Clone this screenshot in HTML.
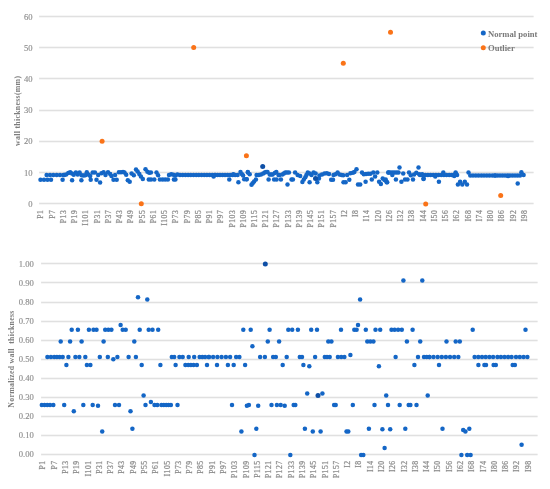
<!DOCTYPE html>
<html><head><meta charset="utf-8"><style>
html,body{margin:0;padding:0;background:#fff;width:550px;height:489px;overflow:hidden}
svg{display:block}
.yl{font-family:"Liberation Serif", "Times New Roman", serif;font-size:8.6px;fill:#8e8e8e;stroke:#8e8e8e;stroke-width:0.15px}
.xl{font-family:"Liberation Serif", "Times New Roman", serif;font-size:7.7px;letter-spacing:0.45px;fill:#8a8a8a;stroke:#8a8a8a;stroke-width:0.22px}
.tt{font-family:"Liberation Serif", "Times New Roman", serif;font-size:7.8px;letter-spacing:0.3px;font-weight:bold;fill:#7d7d7d}
.lg{font-family:"Liberation Serif", "Times New Roman", serif;font-size:8.6px;font-weight:bold;fill:#7a7a7a}
</style></head><body>
<svg width="550" height="489" viewBox="0 0 550 489">
<rect width="550" height="489" fill="#fff"/>
<g>
<line x1="39.1" y1="203.5" x2="533.6" y2="203.5" stroke="#f6f6f6" stroke-width="3"/>
<line x1="39.1" y1="203.5" x2="533.6" y2="203.5" stroke="#e0e0e0" stroke-width="1"/>
<line x1="39.1" y1="172.5" x2="533.6" y2="172.5" stroke="#f6f6f6" stroke-width="3"/>
<line x1="39.1" y1="172.5" x2="533.6" y2="172.5" stroke="#e0e0e0" stroke-width="1"/>
<line x1="39.1" y1="141.5" x2="533.6" y2="141.5" stroke="#f6f6f6" stroke-width="3"/>
<line x1="39.1" y1="141.5" x2="533.6" y2="141.5" stroke="#e0e0e0" stroke-width="1"/>
<line x1="39.1" y1="110.5" x2="533.6" y2="110.5" stroke="#f6f6f6" stroke-width="3"/>
<line x1="39.1" y1="110.5" x2="533.6" y2="110.5" stroke="#e0e0e0" stroke-width="1"/>
<line x1="39.1" y1="78.5" x2="533.6" y2="78.5" stroke="#f6f6f6" stroke-width="3"/>
<line x1="39.1" y1="78.5" x2="533.6" y2="78.5" stroke="#e0e0e0" stroke-width="1"/>
<line x1="39.1" y1="47.5" x2="533.6" y2="47.5" stroke="#f6f6f6" stroke-width="3"/>
<line x1="39.1" y1="47.5" x2="533.6" y2="47.5" stroke="#e0e0e0" stroke-width="1"/>
<line x1="39.1" y1="16.5" x2="533.6" y2="16.5" stroke="#f6f6f6" stroke-width="3"/>
<line x1="39.1" y1="16.5" x2="533.6" y2="16.5" stroke="#e0e0e0" stroke-width="1"/>
<text x="32.6" y="206.8" text-anchor="end" class="yl">0</text>
<text x="32.6" y="175.6" text-anchor="end" class="yl">10</text>
<text x="32.6" y="144.4" text-anchor="end" class="yl">20</text>
<text x="32.6" y="113.2" text-anchor="end" class="yl">30</text>
<text x="32.6" y="82.0" text-anchor="end" class="yl">40</text>
<text x="32.6" y="50.8" text-anchor="end" class="yl">50</text>
<text x="32.6" y="19.5" text-anchor="end" class="yl">60</text>
<text transform="translate(43.4,209.8) rotate(-90)" text-anchor="end" class="xl">P1</text>
<text transform="translate(54.7,209.8) rotate(-90)" text-anchor="end" class="xl">P7</text>
<text transform="translate(65.9,209.8) rotate(-90)" text-anchor="end" class="xl">P13</text>
<text transform="translate(77.2,209.8) rotate(-90)" text-anchor="end" class="xl">P19</text>
<text transform="translate(88.4,209.8) rotate(-90)" text-anchor="end" class="xl">I101</text>
<text transform="translate(99.6,209.8) rotate(-90)" text-anchor="end" class="xl">P31</text>
<text transform="translate(110.9,209.8) rotate(-90)" text-anchor="end" class="xl">P37</text>
<text transform="translate(122.1,209.8) rotate(-90)" text-anchor="end" class="xl">P43</text>
<text transform="translate(133.3,209.8) rotate(-90)" text-anchor="end" class="xl">P49</text>
<text transform="translate(144.6,209.8) rotate(-90)" text-anchor="end" class="xl">P55</text>
<text transform="translate(155.8,209.8) rotate(-90)" text-anchor="end" class="xl">P61</text>
<text transform="translate(167.1,209.8) rotate(-90)" text-anchor="end" class="xl">I105</text>
<text transform="translate(178.3,209.8) rotate(-90)" text-anchor="end" class="xl">P73</text>
<text transform="translate(189.5,209.8) rotate(-90)" text-anchor="end" class="xl">P79</text>
<text transform="translate(200.8,209.8) rotate(-90)" text-anchor="end" class="xl">P85</text>
<text transform="translate(212.0,209.8) rotate(-90)" text-anchor="end" class="xl">P91</text>
<text transform="translate(223.3,209.8) rotate(-90)" text-anchor="end" class="xl">P97</text>
<text transform="translate(234.5,209.8) rotate(-90)" text-anchor="end" class="xl">P103</text>
<text transform="translate(245.7,209.8) rotate(-90)" text-anchor="end" class="xl">P109</text>
<text transform="translate(257.0,209.8) rotate(-90)" text-anchor="end" class="xl">P115</text>
<text transform="translate(268.2,209.8) rotate(-90)" text-anchor="end" class="xl">P121</text>
<text transform="translate(279.4,209.8) rotate(-90)" text-anchor="end" class="xl">P127</text>
<text transform="translate(290.7,209.8) rotate(-90)" text-anchor="end" class="xl">P133</text>
<text transform="translate(301.9,209.8) rotate(-90)" text-anchor="end" class="xl">P139</text>
<text transform="translate(313.2,209.8) rotate(-90)" text-anchor="end" class="xl">P145</text>
<text transform="translate(324.4,209.8) rotate(-90)" text-anchor="end" class="xl">P151</text>
<text transform="translate(335.6,209.8) rotate(-90)" text-anchor="end" class="xl">P157</text>
<text transform="translate(346.9,209.8) rotate(-90)" text-anchor="end" class="xl">I2</text>
<text transform="translate(358.1,209.8) rotate(-90)" text-anchor="end" class="xl">I8</text>
<text transform="translate(369.4,209.8) rotate(-90)" text-anchor="end" class="xl">I14</text>
<text transform="translate(380.6,209.8) rotate(-90)" text-anchor="end" class="xl">I20</text>
<text transform="translate(391.8,209.8) rotate(-90)" text-anchor="end" class="xl">I26</text>
<text transform="translate(403.1,209.8) rotate(-90)" text-anchor="end" class="xl">I32</text>
<text transform="translate(414.3,209.8) rotate(-90)" text-anchor="end" class="xl">I38</text>
<text transform="translate(425.6,209.8) rotate(-90)" text-anchor="end" class="xl">I44</text>
<text transform="translate(436.8,209.8) rotate(-90)" text-anchor="end" class="xl">I50</text>
<text transform="translate(448.0,209.8) rotate(-90)" text-anchor="end" class="xl">I56</text>
<text transform="translate(459.3,209.8) rotate(-90)" text-anchor="end" class="xl">I62</text>
<text transform="translate(470.5,209.8) rotate(-90)" text-anchor="end" class="xl">I68</text>
<text transform="translate(481.7,209.8) rotate(-90)" text-anchor="end" class="xl">I74</text>
<text transform="translate(493.0,209.8) rotate(-90)" text-anchor="end" class="xl">I80</text>
<text transform="translate(504.2,209.8) rotate(-90)" text-anchor="end" class="xl">I86</text>
<text transform="translate(515.5,209.8) rotate(-90)" text-anchor="end" class="xl">I92</text>
<text transform="translate(526.7,209.8) rotate(-90)" text-anchor="end" class="xl">I98</text>
<text transform="translate(20.0,110.8) rotate(-90)" text-anchor="middle" class="tt">wall thickness(mm)</text>
<circle cx="40.5" cy="179.8" r="2.25" fill="#1466c6"/>
<circle cx="44.0" cy="179.8" r="2.25" fill="#1466c6"/>
<circle cx="47.5" cy="179.8" r="2.25" fill="#1466c6"/>
<circle cx="51.0" cy="179.8" r="2.25" fill="#1466c6"/>
<circle cx="46.6" cy="174.9" r="2.25" fill="#1466c6"/>
<circle cx="50.0" cy="174.9" r="2.25" fill="#1466c6"/>
<circle cx="53.3" cy="174.9" r="2.25" fill="#1466c6"/>
<circle cx="56.7" cy="174.9" r="2.25" fill="#1466c6"/>
<circle cx="60.0" cy="174.9" r="2.25" fill="#1466c6"/>
<circle cx="63.4" cy="174.9" r="2.25" fill="#1466c6"/>
<circle cx="62.6" cy="179.8" r="2.25" fill="#1466c6"/>
<circle cx="72.1" cy="180.2" r="2.25" fill="#1466c6"/>
<circle cx="64.3" cy="175" r="2.25" fill="#1466c6"/>
<circle cx="66.1" cy="174.5" r="2.25" fill="#1466c6"/>
<circle cx="68.3" cy="172.9" r="2.25" fill="#1466c6"/>
<circle cx="70.2" cy="172.2" r="2.25" fill="#1466c6"/>
<circle cx="72" cy="173.5" r="2.25" fill="#1466c6"/>
<circle cx="73.7" cy="174.8" r="2.25" fill="#1466c6"/>
<circle cx="75.9" cy="172.5" r="2.25" fill="#1466c6"/>
<circle cx="77.7" cy="174.6" r="2.25" fill="#1466c6"/>
<circle cx="79.6" cy="172.6" r="2.25" fill="#1466c6"/>
<circle cx="81.6" cy="175.2" r="2.25" fill="#1466c6"/>
<circle cx="83.5" cy="175.5" r="2.25" fill="#1466c6"/>
<circle cx="85.2" cy="175.3" r="2.25" fill="#1466c6"/>
<circle cx="86.8" cy="172.2" r="2.25" fill="#1466c6"/>
<circle cx="88.7" cy="174.8" r="2.25" fill="#1466c6"/>
<circle cx="90.2" cy="175.9" r="2.25" fill="#1466c6"/>
<circle cx="92.7" cy="172.5" r="2.25" fill="#1466c6"/>
<circle cx="94.9" cy="172.5" r="2.25" fill="#1466c6"/>
<circle cx="81.4" cy="180.2" r="2.25" fill="#1466c6"/>
<circle cx="90.7" cy="179.7" r="2.25" fill="#1466c6"/>
<circle cx="96.5" cy="179.7" r="2.25" fill="#1466c6"/>
<circle cx="100.1" cy="182.5" r="2.25" fill="#1466c6"/>
<circle cx="98.2" cy="175.1" r="2.25" fill="#1466c6"/>
<circle cx="101.5" cy="173.2" r="2.25" fill="#1466c6"/>
<circle cx="103.6" cy="172.2" r="2.25" fill="#1466c6"/>
<circle cx="105.5" cy="175.1" r="2.25" fill="#1466c6"/>
<circle cx="108" cy="172.2" r="2.25" fill="#1466c6"/>
<circle cx="110.2" cy="174" r="2.25" fill="#1466c6"/>
<circle cx="111.5" cy="175.9" r="2.25" fill="#1466c6"/>
<circle cx="115.1" cy="175.1" r="2.25" fill="#1466c6"/>
<circle cx="118.9" cy="172.2" r="2.25" fill="#1466c6"/>
<circle cx="113.5" cy="179.7" r="2.25" fill="#1466c6"/>
<circle cx="116.7" cy="179.7" r="2.25" fill="#1466c6"/>
<circle cx="121" cy="172.2" r="2.25" fill="#1466c6"/>
<circle cx="123" cy="172.1" r="2.25" fill="#1466c6"/>
<circle cx="124.5" cy="172.5" r="2.25" fill="#1466c6"/>
<circle cx="126.2" cy="174.7" r="2.25" fill="#1466c6"/>
<circle cx="131.6" cy="173.6" r="2.25" fill="#1466c6"/>
<circle cx="133.8" cy="175.3" r="2.25" fill="#1466c6"/>
<circle cx="136" cy="169.4" r="2.25" fill="#1466c6"/>
<circle cx="137.6" cy="171.6" r="2.25" fill="#1466c6"/>
<circle cx="139.3" cy="173.9" r="2.25" fill="#1466c6"/>
<circle cx="140.9" cy="176.6" r="2.25" fill="#1466c6"/>
<circle cx="142.8" cy="179.1" r="2.25" fill="#1466c6"/>
<circle cx="127.8" cy="180.2" r="2.25" fill="#1466c6"/>
<circle cx="129.7" cy="181.8" r="2.25" fill="#1466c6"/>
<circle cx="145.5" cy="169.3" r="2.25" fill="#1466c6"/>
<circle cx="147.4" cy="171.7" r="2.25" fill="#1466c6"/>
<circle cx="149.2" cy="172.8" r="2.25" fill="#1466c6"/>
<circle cx="150.9" cy="172.5" r="2.25" fill="#1466c6"/>
<circle cx="148.8" cy="179.6" r="2.25" fill="#1466c6"/>
<circle cx="151" cy="179.6" r="2.25" fill="#1466c6"/>
<circle cx="154.3" cy="179.6" r="2.25" fill="#1466c6"/>
<circle cx="156.5" cy="172.4" r="2.25" fill="#1466c6"/>
<circle cx="158.1" cy="175.3" r="2.25" fill="#1466c6"/>
<circle cx="159.9" cy="179.6" r="2.25" fill="#1466c6"/>
<circle cx="162.6" cy="179.6" r="2.25" fill="#1466c6"/>
<circle cx="165.2" cy="179.6" r="2.25" fill="#1466c6"/>
<circle cx="167.9" cy="179.6" r="2.25" fill="#1466c6"/>
<circle cx="169" cy="175" r="2.25" fill="#1466c6"/>
<circle cx="171.2" cy="174.2" r="2.25" fill="#1466c6"/>
<circle cx="173.4" cy="174.7" r="2.25" fill="#1466c6"/>
<circle cx="173.9" cy="179.4" r="2.25" fill="#1466c6"/>
<circle cx="175.4" cy="175.5" r="2.25" fill="#1466c6"/>
<circle cx="177.4" cy="174.4" r="2.25" fill="#1466c6"/>
<circle cx="180.0" cy="175.0" r="2.25" fill="#1466c6"/>
<circle cx="182.7" cy="175.0" r="2.25" fill="#1466c6"/>
<circle cx="185.4" cy="175.0" r="2.25" fill="#1466c6"/>
<circle cx="188.1" cy="175.0" r="2.25" fill="#1466c6"/>
<circle cx="190.8" cy="175.0" r="2.25" fill="#1466c6"/>
<circle cx="193.5" cy="175.0" r="2.25" fill="#1466c6"/>
<circle cx="196.2" cy="175.0" r="2.25" fill="#1466c6"/>
<circle cx="198.8" cy="175.0" r="2.25" fill="#1466c6"/>
<circle cx="201.5" cy="175.0" r="2.25" fill="#1466c6"/>
<circle cx="204.2" cy="175.0" r="2.25" fill="#1466c6"/>
<circle cx="206.9" cy="175.0" r="2.25" fill="#1466c6"/>
<circle cx="209.6" cy="175.0" r="2.25" fill="#1466c6"/>
<circle cx="212.3" cy="175.0" r="2.25" fill="#1466c6"/>
<circle cx="215.0" cy="175.0" r="2.25" fill="#1466c6"/>
<circle cx="175.4" cy="179.6" r="2.25" fill="#1466c6"/>
<circle cx="215.0" cy="175.0" r="2.25" fill="#1466c6"/>
<circle cx="217.5" cy="175.0" r="2.25" fill="#1466c6"/>
<circle cx="220.0" cy="175.0" r="2.25" fill="#1466c6"/>
<circle cx="222.5" cy="175.0" r="2.25" fill="#1466c6"/>
<circle cx="225.0" cy="175.0" r="2.25" fill="#1466c6"/>
<circle cx="227.6" cy="175.0" r="2.25" fill="#1466c6"/>
<circle cx="230.1" cy="175.0" r="2.25" fill="#1466c6"/>
<circle cx="232.6" cy="175.0" r="2.25" fill="#1466c6"/>
<circle cx="235.1" cy="175.0" r="2.25" fill="#1466c6"/>
<circle cx="237.6" cy="175.0" r="2.25" fill="#1466c6"/>
<circle cx="213.6" cy="176.4" r="2.25" fill="#1466c6"/>
<circle cx="229.3" cy="179.6" r="2.25" fill="#1466c6"/>
<circle cx="233.3" cy="174.2" r="2.25" fill="#1466c6"/>
<circle cx="240.5" cy="172.0" r="2.25" fill="#1466c6"/>
<circle cx="242" cy="174.2" r="2.25" fill="#1466c6"/>
<circle cx="243.1" cy="175.6" r="2.25" fill="#1466c6"/>
<circle cx="238.4" cy="182.2" r="2.25" fill="#1466c6"/>
<circle cx="244.2" cy="179.3" r="2.25" fill="#1466c6"/>
<circle cx="246.7" cy="179.3" r="2.25" fill="#1466c6"/>
<circle cx="247.8" cy="172.0" r="2.25" fill="#1466c6"/>
<circle cx="247.9" cy="172.4" r="2.25" fill="#1466c6"/>
<circle cx="249.7" cy="174.2" r="2.25" fill="#1466c6"/>
<circle cx="246.5" cy="179.3" r="2.25" fill="#1466c6"/>
<circle cx="255.9" cy="179.6" r="2.25" fill="#1466c6"/>
<circle cx="254.1" cy="181.5" r="2.25" fill="#1466c6"/>
<circle cx="252.6" cy="183.3" r="2.25" fill="#1466c6"/>
<circle cx="251.5" cy="184.7" r="2.25" fill="#1466c6"/>
<circle cx="256.6" cy="174.9" r="2.25" fill="#1466c6"/>
<circle cx="258.8" cy="174.9" r="2.25" fill="#1466c6"/>
<circle cx="261" cy="174.5" r="2.25" fill="#1466c6"/>
<circle cx="263.2" cy="173.5" r="2.25" fill="#1466c6"/>
<circle cx="264.7" cy="172.5" r="2.25" fill="#1466c6"/>
<circle cx="266.1" cy="172.0" r="2.25" fill="#1466c6"/>
<circle cx="267.5" cy="172.0" r="2.25" fill="#1466c6"/>
<circle cx="268.6" cy="179.6" r="2.25" fill="#1466c6"/>
<circle cx="269.7" cy="174.5" r="2.25" fill="#1466c6"/>
<circle cx="271.2" cy="174.5" r="2.25" fill="#1466c6"/>
<circle cx="272.6" cy="174.5" r="2.25" fill="#1466c6"/>
<circle cx="274.8" cy="173.1" r="2.25" fill="#1466c6"/>
<circle cx="276.3" cy="172.0" r="2.25" fill="#1466c6"/>
<circle cx="278.5" cy="174.9" r="2.25" fill="#1466c6"/>
<circle cx="274.1" cy="179.6" r="2.25" fill="#1466c6"/>
<circle cx="276.6" cy="179.6" r="2.25" fill="#1466c6"/>
<circle cx="358" cy="184.4" r="2.25" fill="#1466c6"/>
<circle cx="360.2" cy="184.4" r="2.25" fill="#1466c6"/>
<circle cx="362" cy="172.4" r="2.25" fill="#1466c6"/>
<circle cx="363.8" cy="174.2" r="2.25" fill="#1466c6"/>
<circle cx="365.6" cy="181.8" r="2.25" fill="#1466c6"/>
<circle cx="366" cy="174" r="2.25" fill="#1466c6"/>
<circle cx="368.2" cy="173.8" r="2.25" fill="#1466c6"/>
<circle cx="370.4" cy="173.8" r="2.25" fill="#1466c6"/>
<circle cx="371.8" cy="179.6" r="2.25" fill="#1466c6"/>
<circle cx="373.3" cy="172.4" r="2.25" fill="#1466c6"/>
<circle cx="375.1" cy="176.4" r="2.25" fill="#1466c6"/>
<circle cx="377.3" cy="172.4" r="2.25" fill="#1466c6"/>
<circle cx="379.1" cy="181.8" r="2.25" fill="#1466c6"/>
<circle cx="380.9" cy="184" r="2.25" fill="#1466c6"/>
<circle cx="382.7" cy="178.5" r="2.25" fill="#1466c6"/>
<circle cx="384.5" cy="180" r="2.25" fill="#1466c6"/>
<circle cx="386.7" cy="182.2" r="2.25" fill="#1466c6"/>
<circle cx="388.5" cy="172.4" r="2.25" fill="#1466c6"/>
<circle cx="385.7" cy="179.6" r="2.25" fill="#1466c6"/>
<circle cx="387.2" cy="182.2" r="2.25" fill="#1466c6"/>
<circle cx="388.3" cy="172.4" r="2.25" fill="#1466c6"/>
<circle cx="390.3" cy="172.4" r="2.25" fill="#1466c6"/>
<circle cx="392.4" cy="172.4" r="2.25" fill="#1466c6"/>
<circle cx="394.4" cy="172.4" r="2.25" fill="#1466c6"/>
<circle cx="396.5" cy="172.4" r="2.25" fill="#1466c6"/>
<circle cx="398.5" cy="172.4" r="2.25" fill="#1466c6"/>
<circle cx="392.3" cy="174.9" r="2.25" fill="#1466c6"/>
<circle cx="399.5" cy="167.6" r="2.25" fill="#1466c6"/>
<circle cx="395.9" cy="179.6" r="2.25" fill="#1466c6"/>
<circle cx="401.4" cy="181.8" r="2.25" fill="#1466c6"/>
<circle cx="403.2" cy="173.5" r="2.25" fill="#1466c6"/>
<circle cx="405" cy="179.6" r="2.25" fill="#1466c6"/>
<circle cx="407.5" cy="179.6" r="2.25" fill="#1466c6"/>
<circle cx="409" cy="172.4" r="2.25" fill="#1466c6"/>
<circle cx="410.8" cy="175.3" r="2.25" fill="#1466c6"/>
<circle cx="413" cy="179.6" r="2.25" fill="#1466c6"/>
<circle cx="414.1" cy="174.5" r="2.25" fill="#1466c6"/>
<circle cx="416.3" cy="172.7" r="2.25" fill="#1466c6"/>
<circle cx="418.5" cy="167.6" r="2.25" fill="#1466c6"/>
<circle cx="419.2" cy="174.2" r="2.25" fill="#1466c6"/>
<circle cx="422.1" cy="174.2" r="2.25" fill="#1466c6"/>
<circle cx="423.5" cy="178.9" r="2.25" fill="#1466c6"/>
<circle cx="420.0" cy="174.9" r="2.25" fill="#1466c6"/>
<circle cx="422.6" cy="174.9" r="2.25" fill="#1466c6"/>
<circle cx="425.3" cy="174.9" r="2.25" fill="#1466c6"/>
<circle cx="427.9" cy="174.9" r="2.25" fill="#1466c6"/>
<circle cx="430.6" cy="174.9" r="2.25" fill="#1466c6"/>
<circle cx="433.2" cy="174.9" r="2.25" fill="#1466c6"/>
<circle cx="435.9" cy="174.9" r="2.25" fill="#1466c6"/>
<circle cx="438.6" cy="174.9" r="2.25" fill="#1466c6"/>
<circle cx="441.2" cy="174.9" r="2.25" fill="#1466c6"/>
<circle cx="443.9" cy="174.9" r="2.25" fill="#1466c6"/>
<circle cx="446.5" cy="174.9" r="2.25" fill="#1466c6"/>
<circle cx="449.2" cy="174.9" r="2.25" fill="#1466c6"/>
<circle cx="451.8" cy="174.9" r="2.25" fill="#1466c6"/>
<circle cx="454.5" cy="174.9" r="2.25" fill="#1466c6"/>
<circle cx="457.1" cy="174.9" r="2.25" fill="#1466c6"/>
<circle cx="443.3" cy="172.4" r="2.25" fill="#1466c6"/>
<circle cx="455.6" cy="172.4" r="2.25" fill="#1466c6"/>
<circle cx="423.6" cy="178.5" r="2.25" fill="#1466c6"/>
<circle cx="435.3" cy="176.4" r="2.25" fill="#1466c6"/>
<circle cx="438.9" cy="181.8" r="2.25" fill="#1466c6"/>
<circle cx="454.2" cy="176" r="2.25" fill="#1466c6"/>
<circle cx="455.7" cy="173.5" r="2.25" fill="#1466c6"/>
<circle cx="457.9" cy="184.4" r="2.25" fill="#1466c6"/>
<circle cx="460.1" cy="181.8" r="2.25" fill="#1466c6"/>
<circle cx="462.3" cy="184.4" r="2.25" fill="#1466c6"/>
<circle cx="464.8" cy="181.8" r="2.25" fill="#1466c6"/>
<circle cx="467" cy="184.4" r="2.25" fill="#1466c6"/>
<circle cx="468.5" cy="172.4" r="2.25" fill="#1466c6"/>
<circle cx="470.3" cy="175.5" r="2.25" fill="#1466c6"/>
<circle cx="473.0" cy="175.5" r="2.25" fill="#1466c6"/>
<circle cx="475.8" cy="175.5" r="2.25" fill="#1466c6"/>
<circle cx="478.5" cy="175.5" r="2.25" fill="#1466c6"/>
<circle cx="481.3" cy="175.5" r="2.25" fill="#1466c6"/>
<circle cx="484.0" cy="175.5" r="2.25" fill="#1466c6"/>
<circle cx="486.8" cy="175.5" r="2.25" fill="#1466c6"/>
<circle cx="489.5" cy="175.5" r="2.25" fill="#1466c6"/>
<circle cx="492.3" cy="175.5" r="2.25" fill="#1466c6"/>
<circle cx="495.0" cy="175.5" r="2.25" fill="#1466c6"/>
<circle cx="495.0" cy="175.6" r="2.25" fill="#1466c6"/>
<circle cx="497.5" cy="175.6" r="2.25" fill="#1466c6"/>
<circle cx="500.0" cy="175.6" r="2.25" fill="#1466c6"/>
<circle cx="502.5" cy="175.6" r="2.25" fill="#1466c6"/>
<circle cx="505.0" cy="175.6" r="2.25" fill="#1466c6"/>
<circle cx="507.5" cy="175.6" r="2.25" fill="#1466c6"/>
<circle cx="510.0" cy="175.6" r="2.25" fill="#1466c6"/>
<circle cx="512.5" cy="175.6" r="2.25" fill="#1466c6"/>
<circle cx="515.0" cy="175.6" r="2.25" fill="#1466c6"/>
<circle cx="517.5" cy="175.6" r="2.25" fill="#1466c6"/>
<circle cx="520.0" cy="175.6" r="2.25" fill="#1466c6"/>
<circle cx="508" cy="176" r="2.25" fill="#1466c6"/>
<circle cx="521.4" cy="172.2" r="2.25" fill="#1466c6"/>
<circle cx="523.6" cy="175" r="2.25" fill="#1466c6"/>
<circle cx="517.7" cy="183.6" r="2.25" fill="#1466c6"/>
<circle cx="279.5" cy="175" r="2.25" fill="#1466c6"/>
<circle cx="282.4" cy="174.6" r="2.25" fill="#1466c6"/>
<circle cx="283.8" cy="173.5" r="2.25" fill="#1466c6"/>
<circle cx="285.3" cy="172.5" r="2.25" fill="#1466c6"/>
<circle cx="287" cy="172.4" r="2.25" fill="#1466c6"/>
<circle cx="288.9" cy="172.5" r="2.25" fill="#1466c6"/>
<circle cx="295.1" cy="172.5" r="2.25" fill="#1466c6"/>
<circle cx="297.6" cy="175" r="2.25" fill="#1466c6"/>
<circle cx="300.2" cy="176.1" r="2.25" fill="#1466c6"/>
<circle cx="307.8" cy="172.5" r="2.25" fill="#1466c6"/>
<circle cx="313.6" cy="172.5" r="2.25" fill="#1466c6"/>
<circle cx="311.5" cy="175" r="2.25" fill="#1466c6"/>
<circle cx="309.7" cy="173.5" r="2.25" fill="#1466c6"/>
<circle cx="280.9" cy="179.4" r="2.25" fill="#1466c6"/>
<circle cx="291.5" cy="179.4" r="2.25" fill="#1466c6"/>
<circle cx="292.9" cy="179.4" r="2.25" fill="#1466c6"/>
<circle cx="287.5" cy="184.5" r="2.25" fill="#1466c6"/>
<circle cx="302.4" cy="181.9" r="2.25" fill="#1466c6"/>
<circle cx="303.8" cy="179.4" r="2.25" fill="#1466c6"/>
<circle cx="305.3" cy="177.2" r="2.25" fill="#1466c6"/>
<circle cx="306.4" cy="175" r="2.25" fill="#1466c6"/>
<circle cx="309.6" cy="182.3" r="2.25" fill="#1466c6"/>
<circle cx="317.3" cy="182.3" r="2.25" fill="#1466c6"/>
<circle cx="315.6" cy="173.6" r="2.25" fill="#1466c6"/>
<circle cx="318.9" cy="178.6" r="2.25" fill="#1466c6"/>
<circle cx="319.5" cy="175.5" r="2.25" fill="#1466c6"/>
<circle cx="322" cy="174.5" r="2.25" fill="#1466c6"/>
<circle cx="324.5" cy="173.5" r="2.25" fill="#1466c6"/>
<circle cx="326.9" cy="173.3" r="2.25" fill="#1466c6"/>
<circle cx="329" cy="174" r="2.25" fill="#1466c6"/>
<circle cx="331.2" cy="179.7" r="2.25" fill="#1466c6"/>
<circle cx="333" cy="179.7" r="2.25" fill="#1466c6"/>
<circle cx="333.5" cy="175" r="2.25" fill="#1466c6"/>
<circle cx="335.5" cy="174.2" r="2.25" fill="#1466c6"/>
<circle cx="337.6" cy="172.4" r="2.25" fill="#1466c6"/>
<circle cx="339.5" cy="174.5" r="2.25" fill="#1466c6"/>
<circle cx="341.5" cy="175" r="2.25" fill="#1466c6"/>
<circle cx="343.2" cy="175.2" r="2.25" fill="#1466c6"/>
<circle cx="347.1" cy="175" r="2.25" fill="#1466c6"/>
<circle cx="349.3" cy="179.7" r="2.25" fill="#1466c6"/>
<circle cx="343.5" cy="182.3" r="2.25" fill="#1466c6"/>
<circle cx="345.6" cy="182.3" r="2.25" fill="#1466c6"/>
<circle cx="350.4" cy="173.2" r="2.25" fill="#1466c6"/>
<circle cx="352.9" cy="172.8" r="2.25" fill="#1466c6"/>
<circle cx="354.4" cy="172.1" r="2.25" fill="#1466c6"/>
<circle cx="356.5" cy="169.3" r="2.25" fill="#1466c6"/>
<circle cx="262.7" cy="166.4" r="2.5" fill="#0e4fa6"/>
<circle cx="315.5" cy="178.6" r="2.5" fill="#0e4fa6"/>
<circle cx="102.1" cy="141.3" r="2.5" fill="#fa7318"/>
<circle cx="193.7" cy="47.5" r="2.5" fill="#fa7318"/>
<circle cx="141.3" cy="203.8" r="2.5" fill="#fa7318"/>
<circle cx="246.4" cy="155.8" r="2.5" fill="#fa7318"/>
<circle cx="343.3" cy="63.3" r="2.5" fill="#fa7318"/>
<circle cx="390.5" cy="32.2" r="2.5" fill="#fa7318"/>
<circle cx="425.7" cy="204" r="2.5" fill="#fa7318"/>
<circle cx="500.7" cy="195.5" r="2.5" fill="#fa7318"/>
<circle cx="483.3" cy="33.1" r="2.5" fill="#1466c6"/>
<text x="488" y="36.9" class="lg">Normal point</text>
<circle cx="483.3" cy="47.7" r="2.5" fill="#fa7318"/>
<text x="488" y="51.4" class="lg">Outlier</text>
<line x1="41.1" y1="454.5" x2="537.6" y2="454.5" stroke="#f6f6f6" stroke-width="3"/>
<line x1="41.1" y1="454.5" x2="537.6" y2="454.5" stroke="#e0e0e0" stroke-width="1"/>
<line x1="41.1" y1="435.5" x2="537.6" y2="435.5" stroke="#f6f6f6" stroke-width="3"/>
<line x1="41.1" y1="435.5" x2="537.6" y2="435.5" stroke="#e0e0e0" stroke-width="1"/>
<line x1="41.1" y1="416.5" x2="537.6" y2="416.5" stroke="#f6f6f6" stroke-width="3"/>
<line x1="41.1" y1="416.5" x2="537.6" y2="416.5" stroke="#e0e0e0" stroke-width="1"/>
<line x1="41.1" y1="397.5" x2="537.6" y2="397.5" stroke="#f6f6f6" stroke-width="3"/>
<line x1="41.1" y1="397.5" x2="537.6" y2="397.5" stroke="#e0e0e0" stroke-width="1"/>
<line x1="41.1" y1="378.5" x2="537.6" y2="378.5" stroke="#f6f6f6" stroke-width="3"/>
<line x1="41.1" y1="378.5" x2="537.6" y2="378.5" stroke="#e0e0e0" stroke-width="1"/>
<line x1="41.1" y1="359.5" x2="537.6" y2="359.5" stroke="#f6f6f6" stroke-width="3"/>
<line x1="41.1" y1="359.5" x2="537.6" y2="359.5" stroke="#e0e0e0" stroke-width="1"/>
<line x1="41.1" y1="340.5" x2="537.6" y2="340.5" stroke="#f6f6f6" stroke-width="3"/>
<line x1="41.1" y1="340.5" x2="537.6" y2="340.5" stroke="#e0e0e0" stroke-width="1"/>
<line x1="41.1" y1="321.5" x2="537.6" y2="321.5" stroke="#f6f6f6" stroke-width="3"/>
<line x1="41.1" y1="321.5" x2="537.6" y2="321.5" stroke="#e0e0e0" stroke-width="1"/>
<line x1="41.1" y1="302.5" x2="537.6" y2="302.5" stroke="#f6f6f6" stroke-width="3"/>
<line x1="41.1" y1="302.5" x2="537.6" y2="302.5" stroke="#e0e0e0" stroke-width="1"/>
<line x1="41.1" y1="282.5" x2="537.6" y2="282.5" stroke="#f6f6f6" stroke-width="3"/>
<line x1="41.1" y1="282.5" x2="537.6" y2="282.5" stroke="#e0e0e0" stroke-width="1"/>
<line x1="41.1" y1="263.5" x2="537.6" y2="263.5" stroke="#f6f6f6" stroke-width="3"/>
<line x1="41.1" y1="263.5" x2="537.6" y2="263.5" stroke="#e0e0e0" stroke-width="1"/>
<text x="33.8" y="457.4" text-anchor="end" class="yl">0.00</text>
<text x="33.8" y="438.3" text-anchor="end" class="yl">0.10</text>
<text x="33.8" y="419.3" text-anchor="end" class="yl">0.20</text>
<text x="33.8" y="400.2" text-anchor="end" class="yl">0.30</text>
<text x="33.8" y="381.2" text-anchor="end" class="yl">0.40</text>
<text x="33.8" y="362.1" text-anchor="end" class="yl">0.50</text>
<text x="33.8" y="343.1" text-anchor="end" class="yl">0.60</text>
<text x="33.8" y="324.0" text-anchor="end" class="yl">0.70</text>
<text x="33.8" y="305.0" text-anchor="end" class="yl">0.80</text>
<text x="33.8" y="285.9" text-anchor="end" class="yl">0.90</text>
<text x="33.8" y="266.9" text-anchor="end" class="yl">1.00</text>
<text transform="translate(45.4,460.5) rotate(-90)" text-anchor="end" class="xl">P1</text>
<text transform="translate(56.7,460.5) rotate(-90)" text-anchor="end" class="xl">P7</text>
<text transform="translate(68.0,460.5) rotate(-90)" text-anchor="end" class="xl">P13</text>
<text transform="translate(79.3,460.5) rotate(-90)" text-anchor="end" class="xl">P19</text>
<text transform="translate(90.6,460.5) rotate(-90)" text-anchor="end" class="xl">I101</text>
<text transform="translate(101.9,460.5) rotate(-90)" text-anchor="end" class="xl">P31</text>
<text transform="translate(113.1,460.5) rotate(-90)" text-anchor="end" class="xl">P37</text>
<text transform="translate(124.4,460.5) rotate(-90)" text-anchor="end" class="xl">P43</text>
<text transform="translate(135.7,460.5) rotate(-90)" text-anchor="end" class="xl">P49</text>
<text transform="translate(147.0,460.5) rotate(-90)" text-anchor="end" class="xl">P55</text>
<text transform="translate(158.3,460.5) rotate(-90)" text-anchor="end" class="xl">P61</text>
<text transform="translate(169.6,460.5) rotate(-90)" text-anchor="end" class="xl">I105</text>
<text transform="translate(180.8,460.5) rotate(-90)" text-anchor="end" class="xl">P73</text>
<text transform="translate(192.1,460.5) rotate(-90)" text-anchor="end" class="xl">P79</text>
<text transform="translate(203.4,460.5) rotate(-90)" text-anchor="end" class="xl">P85</text>
<text transform="translate(214.7,460.5) rotate(-90)" text-anchor="end" class="xl">P91</text>
<text transform="translate(226.0,460.5) rotate(-90)" text-anchor="end" class="xl">P97</text>
<text transform="translate(237.3,460.5) rotate(-90)" text-anchor="end" class="xl">P103</text>
<text transform="translate(248.6,460.5) rotate(-90)" text-anchor="end" class="xl">P109</text>
<text transform="translate(259.8,460.5) rotate(-90)" text-anchor="end" class="xl">P115</text>
<text transform="translate(271.1,460.5) rotate(-90)" text-anchor="end" class="xl">P121</text>
<text transform="translate(282.4,460.5) rotate(-90)" text-anchor="end" class="xl">P127</text>
<text transform="translate(293.7,460.5) rotate(-90)" text-anchor="end" class="xl">P133</text>
<text transform="translate(305.0,460.5) rotate(-90)" text-anchor="end" class="xl">P139</text>
<text transform="translate(316.3,460.5) rotate(-90)" text-anchor="end" class="xl">P145</text>
<text transform="translate(327.5,460.5) rotate(-90)" text-anchor="end" class="xl">P151</text>
<text transform="translate(338.8,460.5) rotate(-90)" text-anchor="end" class="xl">P157</text>
<text transform="translate(350.1,460.5) rotate(-90)" text-anchor="end" class="xl">I2</text>
<text transform="translate(361.4,460.5) rotate(-90)" text-anchor="end" class="xl">I8</text>
<text transform="translate(372.7,460.5) rotate(-90)" text-anchor="end" class="xl">I14</text>
<text transform="translate(384.0,460.5) rotate(-90)" text-anchor="end" class="xl">I20</text>
<text transform="translate(395.2,460.5) rotate(-90)" text-anchor="end" class="xl">I26</text>
<text transform="translate(406.5,460.5) rotate(-90)" text-anchor="end" class="xl">I32</text>
<text transform="translate(417.8,460.5) rotate(-90)" text-anchor="end" class="xl">I38</text>
<text transform="translate(429.1,460.5) rotate(-90)" text-anchor="end" class="xl">I44</text>
<text transform="translate(440.4,460.5) rotate(-90)" text-anchor="end" class="xl">I50</text>
<text transform="translate(451.7,460.5) rotate(-90)" text-anchor="end" class="xl">I56</text>
<text transform="translate(463.0,460.5) rotate(-90)" text-anchor="end" class="xl">I62</text>
<text transform="translate(474.2,460.5) rotate(-90)" text-anchor="end" class="xl">I68</text>
<text transform="translate(485.5,460.5) rotate(-90)" text-anchor="end" class="xl">I74</text>
<text transform="translate(496.8,460.5) rotate(-90)" text-anchor="end" class="xl">I80</text>
<text transform="translate(508.1,460.5) rotate(-90)" text-anchor="end" class="xl">I86</text>
<text transform="translate(519.4,460.5) rotate(-90)" text-anchor="end" class="xl">I92</text>
<text transform="translate(530.7,460.5) rotate(-90)" text-anchor="end" class="xl">I98</text>
<text transform="translate(14.3,359) rotate(-90)" text-anchor="middle" class="tt">Normalized wall&#160; thickness</text>
<circle cx="403.4" cy="280.5" r="2.25" fill="#1466c6"/>
<circle cx="422.3" cy="280.5" r="2.25" fill="#1466c6"/>
<circle cx="138" cy="297.3" r="2.25" fill="#1466c6"/>
<circle cx="147.3" cy="299.4" r="2.25" fill="#1466c6"/>
<circle cx="360.1" cy="299.4" r="2.25" fill="#1466c6"/>
<circle cx="120.6" cy="325.0" r="2.25" fill="#1466c6"/>
<circle cx="358" cy="325.0" r="2.25" fill="#1466c6"/>
<circle cx="71.7" cy="329.8" r="2.25" fill="#1466c6"/>
<circle cx="77.9" cy="329.8" r="2.25" fill="#1466c6"/>
<circle cx="88.9" cy="329.8" r="2.25" fill="#1466c6"/>
<circle cx="93.5" cy="329.8" r="2.25" fill="#1466c6"/>
<circle cx="96.5" cy="329.8" r="2.25" fill="#1466c6"/>
<circle cx="105.2" cy="329.8" r="2.25" fill="#1466c6"/>
<circle cx="108.3" cy="329.8" r="2.25" fill="#1466c6"/>
<circle cx="111.4" cy="329.8" r="2.25" fill="#1466c6"/>
<circle cx="122.7" cy="329.8" r="2.25" fill="#1466c6"/>
<circle cx="125.7" cy="329.8" r="2.25" fill="#1466c6"/>
<circle cx="139.7" cy="329.8" r="2.25" fill="#1466c6"/>
<circle cx="148.7" cy="329.8" r="2.25" fill="#1466c6"/>
<circle cx="152.5" cy="329.8" r="2.25" fill="#1466c6"/>
<circle cx="158.2" cy="329.8" r="2.25" fill="#1466c6"/>
<circle cx="243.3" cy="329.8" r="2.25" fill="#1466c6"/>
<circle cx="250.7" cy="329.8" r="2.25" fill="#1466c6"/>
<circle cx="269.6" cy="329.8" r="2.25" fill="#1466c6"/>
<circle cx="288.3" cy="329.8" r="2.25" fill="#1466c6"/>
<circle cx="292.2" cy="329.8" r="2.25" fill="#1466c6"/>
<circle cx="297.9" cy="329.8" r="2.25" fill="#1466c6"/>
<circle cx="311.2" cy="329.8" r="2.25" fill="#1466c6"/>
<circle cx="317" cy="329.8" r="2.25" fill="#1466c6"/>
<circle cx="341" cy="329.8" r="2.25" fill="#1466c6"/>
<circle cx="354.3" cy="329.8" r="2.25" fill="#1466c6"/>
<circle cx="356.6" cy="329.8" r="2.25" fill="#1466c6"/>
<circle cx="365.8" cy="329.8" r="2.25" fill="#1466c6"/>
<circle cx="375.5" cy="329.8" r="2.25" fill="#1466c6"/>
<circle cx="380.2" cy="329.8" r="2.25" fill="#1466c6"/>
<circle cx="391.5" cy="329.8" r="2.25" fill="#1466c6"/>
<circle cx="394.6" cy="329.8" r="2.25" fill="#1466c6"/>
<circle cx="398.1" cy="329.8" r="2.25" fill="#1466c6"/>
<circle cx="401.8" cy="329.8" r="2.25" fill="#1466c6"/>
<circle cx="412.6" cy="329.8" r="2.25" fill="#1466c6"/>
<circle cx="472.7" cy="329.8" r="2.25" fill="#1466c6"/>
<circle cx="525.5" cy="329.8" r="2.25" fill="#1466c6"/>
<circle cx="60.7" cy="341.5" r="2.25" fill="#1466c6"/>
<circle cx="70.1" cy="341.5" r="2.25" fill="#1466c6"/>
<circle cx="81.6" cy="341.5" r="2.25" fill="#1466c6"/>
<circle cx="103.6" cy="341.5" r="2.25" fill="#1466c6"/>
<circle cx="134.3" cy="341.5" r="2.25" fill="#1466c6"/>
<circle cx="267.8" cy="341.5" r="2.25" fill="#1466c6"/>
<circle cx="279.1" cy="341.5" r="2.25" fill="#1466c6"/>
<circle cx="328.3" cy="341.5" r="2.25" fill="#1466c6"/>
<circle cx="331.4" cy="341.5" r="2.25" fill="#1466c6"/>
<circle cx="367.3" cy="341.5" r="2.25" fill="#1466c6"/>
<circle cx="370.3" cy="341.5" r="2.25" fill="#1466c6"/>
<circle cx="373.4" cy="341.5" r="2.25" fill="#1466c6"/>
<circle cx="406.9" cy="341.5" r="2.25" fill="#1466c6"/>
<circle cx="420.2" cy="341.5" r="2.25" fill="#1466c6"/>
<circle cx="446.5" cy="341.5" r="2.25" fill="#1466c6"/>
<circle cx="455.7" cy="341.5" r="2.25" fill="#1466c6"/>
<circle cx="459.8" cy="341.5" r="2.25" fill="#1466c6"/>
<circle cx="252.4" cy="346.3" r="2.25" fill="#1466c6"/>
<circle cx="350.4" cy="355.1" r="2.25" fill="#1466c6"/>
<circle cx="47.4" cy="357.0" r="2.25" fill="#1466c6"/>
<circle cx="50.9" cy="357.0" r="2.25" fill="#1466c6"/>
<circle cx="54.2" cy="357.0" r="2.25" fill="#1466c6"/>
<circle cx="56.9" cy="357.0" r="2.25" fill="#1466c6"/>
<circle cx="59.6" cy="357.0" r="2.25" fill="#1466c6"/>
<circle cx="62.7" cy="357.0" r="2.25" fill="#1466c6"/>
<circle cx="68.4" cy="357.0" r="2.25" fill="#1466c6"/>
<circle cx="75.4" cy="357.0" r="2.25" fill="#1466c6"/>
<circle cx="79.3" cy="357.0" r="2.25" fill="#1466c6"/>
<circle cx="85.3" cy="357.0" r="2.25" fill="#1466c6"/>
<circle cx="99.8" cy="357.0" r="2.25" fill="#1466c6"/>
<circle cx="107.8" cy="357.0" r="2.25" fill="#1466c6"/>
<circle cx="117.4" cy="357.0" r="2.25" fill="#1466c6"/>
<circle cx="128.6" cy="357.0" r="2.25" fill="#1466c6"/>
<circle cx="135.9" cy="357.0" r="2.25" fill="#1466c6"/>
<circle cx="171.8" cy="357.0" r="2.25" fill="#1466c6"/>
<circle cx="174.2" cy="357.0" r="2.25" fill="#1466c6"/>
<circle cx="179.4" cy="357.0" r="2.25" fill="#1466c6"/>
<circle cx="182.7" cy="357.0" r="2.25" fill="#1466c6"/>
<circle cx="188.7" cy="357.0" r="2.25" fill="#1466c6"/>
<circle cx="194.2" cy="357.0" r="2.25" fill="#1466c6"/>
<circle cx="199.6" cy="357.0" r="2.25" fill="#1466c6"/>
<circle cx="202.3" cy="357.0" r="2.25" fill="#1466c6"/>
<circle cx="205.1" cy="357.0" r="2.25" fill="#1466c6"/>
<circle cx="208.9" cy="357.0" r="2.25" fill="#1466c6"/>
<circle cx="208.9" cy="357.0" r="2.25" fill="#1466c6"/>
<circle cx="213.1" cy="357.0" r="2.25" fill="#1466c6"/>
<circle cx="217.4" cy="357.0" r="2.25" fill="#1466c6"/>
<circle cx="221.6" cy="357.0" r="2.25" fill="#1466c6"/>
<circle cx="225.9" cy="357.0" r="2.25" fill="#1466c6"/>
<circle cx="230.1" cy="357.0" r="2.25" fill="#1466c6"/>
<circle cx="236.1" cy="357.0" r="2.25" fill="#1466c6"/>
<circle cx="239.4" cy="357.0" r="2.25" fill="#1466c6"/>
<circle cx="260.1" cy="357.0" r="2.25" fill="#1466c6"/>
<circle cx="264.9" cy="357.0" r="2.25" fill="#1466c6"/>
<circle cx="273.1" cy="357.0" r="2.25" fill="#1466c6"/>
<circle cx="275.8" cy="357.0" r="2.25" fill="#1466c6"/>
<circle cx="286.7" cy="357.0" r="2.25" fill="#1466c6"/>
<circle cx="299.8" cy="357.0" r="2.25" fill="#1466c6"/>
<circle cx="302" cy="357.0" r="2.25" fill="#1466c6"/>
<circle cx="315.1" cy="357.0" r="2.25" fill="#1466c6"/>
<circle cx="324.8" cy="357.0" r="2.25" fill="#1466c6"/>
<circle cx="327" cy="357.0" r="2.25" fill="#1466c6"/>
<circle cx="329.7" cy="357.0" r="2.25" fill="#1466c6"/>
<circle cx="337.9" cy="357.0" r="2.25" fill="#1466c6"/>
<circle cx="341.2" cy="357.0" r="2.25" fill="#1466c6"/>
<circle cx="344.4" cy="357.0" r="2.25" fill="#1466c6"/>
<circle cx="395.6" cy="357.0" r="2.25" fill="#1466c6"/>
<circle cx="418" cy="357.0" r="2.25" fill="#1466c6"/>
<circle cx="424" cy="357.0" r="2.25" fill="#1466c6"/>
<circle cx="426.7" cy="357.0" r="2.25" fill="#1466c6"/>
<circle cx="429.4" cy="357.0" r="2.25" fill="#1466c6"/>
<circle cx="429.4" cy="357.0" r="2.25" fill="#1466c6"/>
<circle cx="433.5" cy="357.0" r="2.25" fill="#1466c6"/>
<circle cx="437.7" cy="357.0" r="2.25" fill="#1466c6"/>
<circle cx="441.8" cy="357.0" r="2.25" fill="#1466c6"/>
<circle cx="445.9" cy="357.0" r="2.25" fill="#1466c6"/>
<circle cx="450.0" cy="357.0" r="2.25" fill="#1466c6"/>
<circle cx="454.2" cy="357.0" r="2.25" fill="#1466c6"/>
<circle cx="458.3" cy="357.0" r="2.25" fill="#1466c6"/>
<circle cx="474.6" cy="357.0" r="2.25" fill="#1466c6"/>
<circle cx="478.3" cy="357.0" r="2.25" fill="#1466c6"/>
<circle cx="482.0" cy="357.0" r="2.25" fill="#1466c6"/>
<circle cx="485.7" cy="357.0" r="2.25" fill="#1466c6"/>
<circle cx="489.4" cy="357.0" r="2.25" fill="#1466c6"/>
<circle cx="493.1" cy="357.0" r="2.25" fill="#1466c6"/>
<circle cx="497.4" cy="357.0" r="2.25" fill="#1466c6"/>
<circle cx="500.9" cy="357.0" r="2.25" fill="#1466c6"/>
<circle cx="504.5" cy="357.0" r="2.25" fill="#1466c6"/>
<circle cx="508.1" cy="357.0" r="2.25" fill="#1466c6"/>
<circle cx="511.6" cy="357.0" r="2.25" fill="#1466c6"/>
<circle cx="516.0" cy="357.0" r="2.25" fill="#1466c6"/>
<circle cx="519.8" cy="357.0" r="2.25" fill="#1466c6"/>
<circle cx="523.6" cy="357.0" r="2.25" fill="#1466c6"/>
<circle cx="527.4" cy="357.0" r="2.25" fill="#1466c6"/>
<circle cx="113.3" cy="359.3" r="2.25" fill="#1466c6"/>
<circle cx="66.4" cy="364.9" r="2.25" fill="#1466c6"/>
<circle cx="86.9" cy="364.9" r="2.25" fill="#1466c6"/>
<circle cx="90.4" cy="364.9" r="2.25" fill="#1466c6"/>
<circle cx="141.7" cy="364.9" r="2.25" fill="#1466c6"/>
<circle cx="160.4" cy="364.9" r="2.25" fill="#1466c6"/>
<circle cx="175.6" cy="364.9" r="2.25" fill="#1466c6"/>
<circle cx="185.4" cy="364.9" r="2.25" fill="#1466c6"/>
<circle cx="188.2" cy="364.9" r="2.25" fill="#1466c6"/>
<circle cx="190.9" cy="364.9" r="2.25" fill="#1466c6"/>
<circle cx="193.6" cy="364.9" r="2.25" fill="#1466c6"/>
<circle cx="196.9" cy="364.9" r="2.25" fill="#1466c6"/>
<circle cx="207" cy="364.9" r="2.25" fill="#1466c6"/>
<circle cx="217" cy="364.9" r="2.25" fill="#1466c6"/>
<circle cx="227.9" cy="364.9" r="2.25" fill="#1466c6"/>
<circle cx="233.7" cy="364.9" r="2.25" fill="#1466c6"/>
<circle cx="245.1" cy="364.9" r="2.25" fill="#1466c6"/>
<circle cx="282.7" cy="364.9" r="2.25" fill="#1466c6"/>
<circle cx="303.4" cy="364.9" r="2.25" fill="#1466c6"/>
<circle cx="414.4" cy="364.9" r="2.25" fill="#1466c6"/>
<circle cx="439" cy="364.9" r="2.25" fill="#1466c6"/>
<circle cx="478.4" cy="364.9" r="2.25" fill="#1466c6"/>
<circle cx="484.4" cy="364.9" r="2.25" fill="#1466c6"/>
<circle cx="486" cy="364.9" r="2.25" fill="#1466c6"/>
<circle cx="493.6" cy="364.9" r="2.25" fill="#1466c6"/>
<circle cx="495.8" cy="364.9" r="2.25" fill="#1466c6"/>
<circle cx="512.7" cy="364.9" r="2.25" fill="#1466c6"/>
<circle cx="514.9" cy="364.9" r="2.25" fill="#1466c6"/>
<circle cx="309.3" cy="366.3" r="2.25" fill="#1466c6"/>
<circle cx="378.9" cy="366.3" r="2.25" fill="#1466c6"/>
<circle cx="307.2" cy="393.6" r="2.25" fill="#1466c6"/>
<circle cx="322.4" cy="393.6" r="2.25" fill="#1466c6"/>
<circle cx="143.6" cy="395.6" r="2.25" fill="#1466c6"/>
<circle cx="386.2" cy="395.6" r="2.25" fill="#1466c6"/>
<circle cx="427.7" cy="395.6" r="2.25" fill="#1466c6"/>
<circle cx="150.9" cy="402.1" r="2.25" fill="#1466c6"/>
<circle cx="41.8" cy="405.0" r="2.25" fill="#1466c6"/>
<circle cx="44.5" cy="405.0" r="2.25" fill="#1466c6"/>
<circle cx="47.2" cy="405.0" r="2.25" fill="#1466c6"/>
<circle cx="50" cy="405.0" r="2.25" fill="#1466c6"/>
<circle cx="53.3" cy="405.0" r="2.25" fill="#1466c6"/>
<circle cx="64.2" cy="405.0" r="2.25" fill="#1466c6"/>
<circle cx="83.3" cy="405.0" r="2.25" fill="#1466c6"/>
<circle cx="92.7" cy="405.0" r="2.25" fill="#1466c6"/>
<circle cx="119" cy="405.0" r="2.25" fill="#1466c6"/>
<circle cx="115" cy="405.0" r="2.25" fill="#1466c6"/>
<circle cx="145.5" cy="405.0" r="2.25" fill="#1466c6"/>
<circle cx="154.5" cy="405.0" r="2.25" fill="#1466c6"/>
<circle cx="157.3" cy="405.0" r="2.25" fill="#1466c6"/>
<circle cx="161.4" cy="405.0" r="2.25" fill="#1466c6"/>
<circle cx="163.8" cy="405.0" r="2.25" fill="#1466c6"/>
<circle cx="166.2" cy="405.0" r="2.25" fill="#1466c6"/>
<circle cx="168.5" cy="405.0" r="2.25" fill="#1466c6"/>
<circle cx="170.9" cy="405.0" r="2.25" fill="#1466c6"/>
<circle cx="177.5" cy="405.0" r="2.25" fill="#1466c6"/>
<circle cx="232" cy="405.0" r="2.25" fill="#1466c6"/>
<circle cx="248.9" cy="405.0" r="2.25" fill="#1466c6"/>
<circle cx="271.5" cy="405.0" r="2.25" fill="#1466c6"/>
<circle cx="276.9" cy="405.0" r="2.25" fill="#1466c6"/>
<circle cx="280.7" cy="405.0" r="2.25" fill="#1466c6"/>
<circle cx="293.7" cy="405.0" r="2.25" fill="#1466c6"/>
<circle cx="295.3" cy="405.0" r="2.25" fill="#1466c6"/>
<circle cx="334.1" cy="405.0" r="2.25" fill="#1466c6"/>
<circle cx="335.7" cy="405.0" r="2.25" fill="#1466c6"/>
<circle cx="352.8" cy="405.0" r="2.25" fill="#1466c6"/>
<circle cx="374.5" cy="405.0" r="2.25" fill="#1466c6"/>
<circle cx="388" cy="405.0" r="2.25" fill="#1466c6"/>
<circle cx="399.7" cy="405.0" r="2.25" fill="#1466c6"/>
<circle cx="408.7" cy="405.0" r="2.25" fill="#1466c6"/>
<circle cx="410.4" cy="405.0" r="2.25" fill="#1466c6"/>
<circle cx="416.5" cy="405.0" r="2.25" fill="#1466c6"/>
<circle cx="98" cy="405.7" r="2.25" fill="#1466c6"/>
<circle cx="246.9" cy="405.7" r="2.25" fill="#1466c6"/>
<circle cx="258.2" cy="405.7" r="2.25" fill="#1466c6"/>
<circle cx="284.7" cy="405.7" r="2.25" fill="#1466c6"/>
<circle cx="73.8" cy="411.3" r="2.25" fill="#1466c6"/>
<circle cx="130.5" cy="411.3" r="2.25" fill="#1466c6"/>
<circle cx="132.4" cy="428.8" r="2.25" fill="#1466c6"/>
<circle cx="256.3" cy="428.8" r="2.25" fill="#1466c6"/>
<circle cx="304.9" cy="428.8" r="2.25" fill="#1466c6"/>
<circle cx="368.9" cy="428.8" r="2.25" fill="#1466c6"/>
<circle cx="405.3" cy="428.8" r="2.25" fill="#1466c6"/>
<circle cx="442.5" cy="428.8" r="2.25" fill="#1466c6"/>
<circle cx="469.3" cy="428.8" r="2.25" fill="#1466c6"/>
<circle cx="463.2" cy="430.1" r="2.25" fill="#1466c6"/>
<circle cx="102.2" cy="431.5" r="2.25" fill="#1466c6"/>
<circle cx="241.4" cy="431.5" r="2.25" fill="#1466c6"/>
<circle cx="312.8" cy="431.5" r="2.25" fill="#1466c6"/>
<circle cx="320.6" cy="431.5" r="2.25" fill="#1466c6"/>
<circle cx="346.5" cy="431.5" r="2.25" fill="#1466c6"/>
<circle cx="348.3" cy="431.5" r="2.25" fill="#1466c6"/>
<circle cx="465.4" cy="431.5" r="2.25" fill="#1466c6"/>
<circle cx="382.4" cy="429.3" r="2.25" fill="#1466c6"/>
<circle cx="390.2" cy="429.3" r="2.25" fill="#1466c6"/>
<circle cx="521.6" cy="444.7" r="2.25" fill="#1466c6"/>
<circle cx="384.6" cy="448.1" r="2.25" fill="#1466c6"/>
<circle cx="254.5" cy="454.9" r="2.25" fill="#1466c6"/>
<circle cx="290.3" cy="454.9" r="2.25" fill="#1466c6"/>
<circle cx="361.1" cy="454.9" r="2.25" fill="#1466c6"/>
<circle cx="363.3" cy="454.9" r="2.25" fill="#1466c6"/>
<circle cx="461.4" cy="454.9" r="2.25" fill="#1466c6"/>
<circle cx="467.2" cy="454.9" r="2.25" fill="#1466c6"/>
<circle cx="470.6" cy="454.9" r="2.25" fill="#1466c6"/>
<circle cx="265.3" cy="264.1" r="2.5" fill="#0e4fa6"/>
<circle cx="318" cy="395.6" r="2.5" fill="#0e4fa6"/>
</g>
</svg>
</body></html>
